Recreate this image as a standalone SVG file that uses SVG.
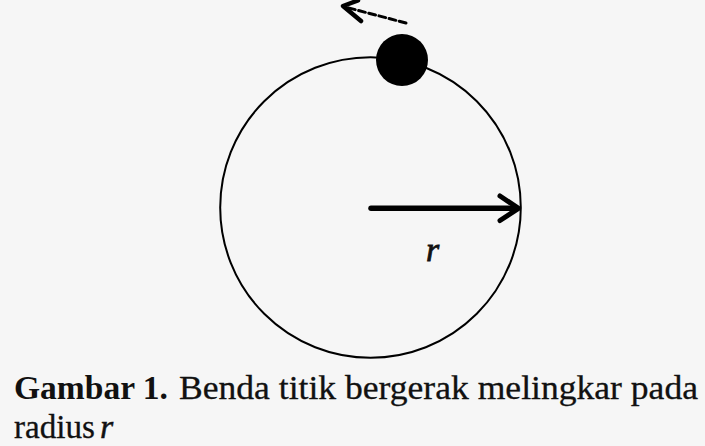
<svg xmlns="http://www.w3.org/2000/svg" width="705" height="446" viewBox="0 0 705 446">
<style>
.orbit{fill:none;stroke:#000;stroke-width:2}
.conn{fill:none;stroke:#000;stroke-linecap:round;stroke-linejoin:round}
.cap{font-family:"Liberation Serif","Times New Roman",serif;font-size:33px;fill:#111}
.lbl{font-family:"Liberation Serif","Times New Roman",serif;font-size:34px;font-style:italic;fill:#111}
</style>
<rect width="705" height="446" fill="#f6f6f6"/>
<g id="orbit">
<circle class="orbit" cx="370.5" cy="207.5" r="150.3"/>
</g>
<g id="ball">
<circle cx="402" cy="60" r="26" fill="#000"/>
</g>
<g id="connectors">
<line class="conn" x1="406" y1="23" x2="347" y2="7.5" stroke-width="3" stroke-dasharray="7 3.5" stroke-linecap="butt"/>
<polyline class="conn" points="358,0.5 343,6 361,21" stroke-width="4.5"/>
<line class="conn" x1="371" y1="208.3" x2="516" y2="208.3" stroke-width="5.5" stroke-linecap="butt"/>
<polyline class="conn" points="500,196 518.5,208.3 500,220.5" stroke-width="5"/>
</g>
<g id="label-r">
<text class="lbl" x="426" y="261" stroke="#111" stroke-width="0.8">r</text>
</g>
<g id="caption">
<text class="cap" x="14" y="399" font-weight="bold" textLength="154" lengthAdjust="spacingAndGlyphs">Gambar 1.</text>
<text class="cap" x="179" y="399" textLength="519" lengthAdjust="spacingAndGlyphs" stroke="#111" stroke-width="0.3">Benda titik bergerak melingkar pada</text>
<text class="cap" x="14" y="438" textLength="81" lengthAdjust="spacingAndGlyphs" stroke="#111" stroke-width="0.3">radius</text>
<text class="lbl" x="100" y="438" stroke="#111" stroke-width="0.5">r</text>
</g>
</svg>
